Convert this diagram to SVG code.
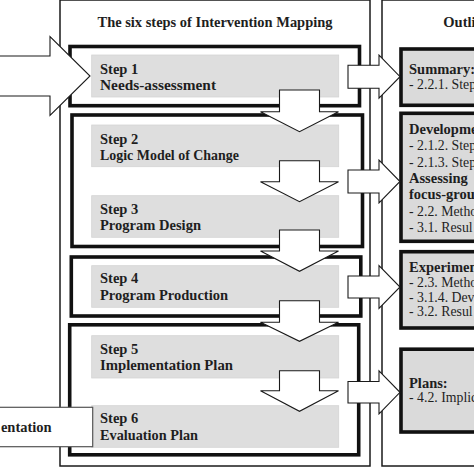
<svg xmlns="http://www.w3.org/2000/svg" width="474" height="474" viewBox="0 0 474 474">
<style>
.panel{fill:#fff;stroke:#1a1a1a;stroke-width:1.5}
.grp{fill:none;stroke:#111;stroke-width:3.6}
.step{fill:#dedede;stroke:#d4d4d4;stroke-width:0.8}
.rbox{fill:#dadada;stroke:#111;stroke-width:3.6}
.arrow{fill:#fff;stroke:#1a1a1a;stroke-width:1.1;stroke-linejoin:miter}
.ext{fill:#fff;stroke:#555;stroke-width:1.2}
text{font-family:"Liberation Serif","Times New Roman",serif;fill:#1e1e1e}
.b{font-weight:bold;font-size:14.5px}
.r{font-size:13.8px}
</style>
<rect width="474" height="474" fill="#fff"/>
<g id="panel-left">
<rect class="panel" x="60" y="0" width="310" height="466"/>
<text class="b" x="215" y="27" text-anchor="middle" textLength="235" lengthAdjust="spacingAndGlyphs">The six steps of Intervention Mapping</text>
</g>
<g id="panel-right">
<rect class="panel" x="382" y="0" width="110" height="466"/>
<text class="b" x="443.3" y="26.7">Outli</text>
</g>
<g id="group-1">
<rect class="grp" x="70" y="46.5" width="289.5" height="59.2"/>
</g>
<g id="group-2">
<rect class="grp" x="72" y="115" width="290.5" height="131.5"/>
</g>
<g id="group-3">
<rect class="grp" x="71.3" y="257" width="289.5" height="59"/>
</g>
<g id="group-4">
<rect class="grp" x="69.7" y="324.8" width="289" height="130"/>
</g>
<g id="step-1">
<rect class="step" x="91.7" y="55" width="247" height="42"/>
<text class="b" x="100" y="74">Step 1</text>
<text class="b" x="100" y="90" textLength="116" lengthAdjust="spacingAndGlyphs">Needs-assessment</text>
</g>
<g id="step-2">
<rect class="step" x="91.7" y="125" width="247" height="41.7"/>
<text class="b" x="100" y="143.5">Step 2</text>
<text class="b" x="100" y="159.5" textLength="139" lengthAdjust="spacingAndGlyphs">Logic Model of Change</text>
</g>
<g id="step-3">
<rect class="step" x="91.7" y="195.7" width="247" height="41.6"/>
<text class="b" x="100" y="213.5">Step 3</text>
<text class="b" x="100" y="230" textLength="101" lengthAdjust="spacingAndGlyphs">Program Design</text>
</g>
<g id="step-4">
<rect class="step" x="91.7" y="265.7" width="247" height="41.6"/>
<text class="b" x="100" y="282.5">Step 4</text>
<text class="b" x="100" y="299.5" textLength="128" lengthAdjust="spacingAndGlyphs">Program Production</text>
</g>
<g id="step-5">
<rect class="step" x="91.7" y="335.7" width="247" height="42.3"/>
<text class="b" x="100" y="354">Step 5</text>
<text class="b" x="100" y="370" textLength="133" lengthAdjust="spacingAndGlyphs">Implementation Plan</text>
</g>
<g id="step-6">
<rect class="step" x="91.7" y="405.7" width="247" height="41.6"/>
<text class="b" x="100" y="423.3">Step 6</text>
<text class="b" x="100" y="440" textLength="98" lengthAdjust="spacingAndGlyphs">Evaluation Plan</text>
</g>
<g id="implementation">
<rect class="ext" x="-5" y="407.3" width="97.7" height="39.4"/>
<text class="b" x="51.7" y="432.3" text-anchor="end">entation</text>
</g>
<g id="out-summary">
<rect class="rbox" x="401" y="49" width="90" height="56.3"/>
<text class="b" x="409" y="74">Summary:</text>
<text class="r" x="409" y="89">- 2.2.1. Step</text>
</g>
<g id="out-development">
<rect class="rbox" x="401" y="113.3" width="90" height="128"/>
<text class="b" x="409" y="134">Developme</text>
<text class="r" x="409" y="150.3">- 2.1.2. Step</text>
<text class="r" x="409" y="166.7">- 2.1.3. Step</text>
<text class="b" x="409" y="183">Assessing</text>
<text class="b" x="409" y="199.3">focus-grou</text>
<text class="r" x="409" y="215.7">- 2.2. Metho</text>
<text class="r" x="409" y="231.5">- 3.1. Resul</text>
</g>
<g id="out-experiment">
<rect class="rbox" x="401" y="251.7" width="90" height="76.3"/>
<text class="b" x="409" y="272">Experimen</text>
<text class="r" x="409" y="287">- 2.3. Metho</text>
<text class="r" x="409" y="302">- 3.1.4. Dev</text>
<text class="r" x="409" y="316">- 3.2. Resul</text>
</g>
<g id="out-plans">
<rect class="rbox" x="401" y="349.2" width="90" height="82.8"/>
<text class="b" x="409" y="387.5">Plans:</text>
<text class="r" x="409" y="402">- 4.2. Implic</text>
</g>
<g id="connectors">
<polygon class="arrow" points="-5,56 50,56 50,36.5 90,76 50,115.5 50,96 -5,96"/>
<polygon class="arrow" points="279.5,90 319.5,90 319.5,111.7 338.5,111.7 299.5,131.7 260.5,111.7 279.5,111.7"/>
<polygon class="arrow" points="279.5,160.7 319.5,160.7 319.5,181.7 338.5,181.7 299.5,201.7 260.5,181.7 279.5,181.7"/>
<polygon class="arrow" points="279.5,230 319.5,230 319.5,251 338.5,251 299.5,271.3 260.5,251 279.5,251"/>
<polygon class="arrow" points="279.5,300.7 319.5,300.7 319.5,322.2 338.5,322.2 299.5,341.3 260.5,322.2 279.5,322.2"/>
<polygon class="arrow" points="279.5,370.7 319.5,370.7 319.5,390.7 338.5,390.7 299.5,411.3 260.5,390.7 279.5,390.7"/>
<polygon class="arrow" points="348,65.2 379,65.2 379,55.2 400,76.7 379,98.2 379,88.2 348,88.2"/>
<polygon class="arrow" points="348,170 379,170 379,160 400,181.5 379,203 379,193 348,193"/>
<polygon class="arrow" points="348,276 379,276 379,265.6 400,287 379,308.4 379,298 348,298"/>
<polygon class="arrow" points="348,381.5 379,381.5 379,370.8 400,392.3 379,413.8 379,403 348,403"/>
</g>
</svg>
